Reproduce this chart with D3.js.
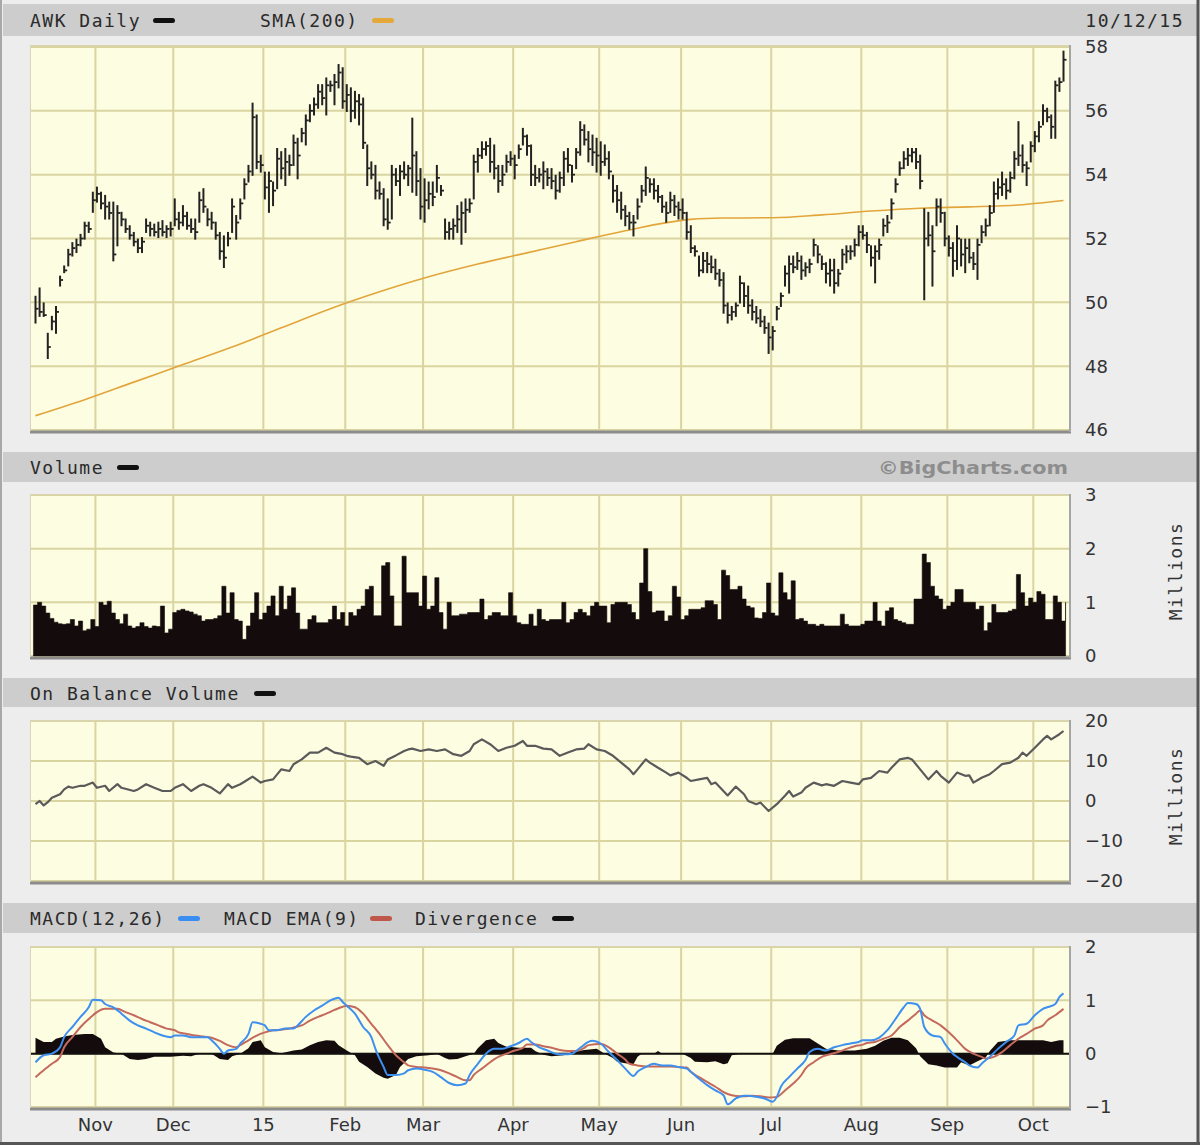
<!DOCTYPE html>
<html><head><meta charset="utf-8">
<script src="https://cdn.jsdelivr.net/npm/d3@7"></script>
<style>body{margin:0;background:#ededed}svg{display:block}</style>
</head><body>
<svg id="c" width="1200" height="1145"></svg>
<script>
// ---------- DATA ----------
const monthLabels = ["Nov","Dec","15","Feb","Mar","Apr","May","Jun","Jul","Aug","Sep","Oct"];
const monthStart = [15,34,56,76,95,117,138,158,180,202,223,244]; // trading-day index of first session
const priceTicks = [46,48,50,52,54,56,58];
const volTicks = [0,1,2,3];
const obvTicks = [-20,-10,0,10,20];
const macdTicks = [-1,0,1,2];

const high = [50.19,50.45,49.98,49.03,49.56,49.87,50.82,51.14,51.66,51.87,
51.98,52.13,52.51,52.51,53.45,53.61,53.45,53.35,53.14,53.14,
53.03,52.82,52.61,52.40,52.19,51.98,52.03,52.61,52.51,52.45,
52.51,52.56,52.40,52.51,53.24,52.82,53.03,52.82,52.61,52.61,
53.45,53.56,52.93,52.82,52.51,52.19,52.08,52.19,53.24,52.72,
53.24,53.87,54.29,56.24,55.87,54.61,54.08,54.08,53.77,54.82,
54.72,54.82,54.61,55.24,55.14,55.45,55.87,56.19,56.40,56.82,
56.82,57.03,56.93,57.14,57.45,57.35,56.82,56.72,56.61,56.51,
56.40,54.93,54.40,54.29,53.77,53.56,53.24,54.29,54.19,54.29,
54.40,54.29,55.77,54.72,54.19,53.87,53.77,53.77,54.29,53.66,
52.61,52.51,52.61,53.03,53.14,53.24,53.24,54.61,54.82,55.03,
55.03,55.14,54.93,54.29,54.29,54.61,54.72,54.61,54.93,55.45,
55.24,54.93,54.29,54.19,54.40,54.19,54.19,53.98,54.08,54.72,
54.82,54.29,54.82,55.66,55.56,55.35,55.24,55.14,55.03,54.93,
54.72,53.98,53.66,53.45,53.03,52.82,52.72,53.24,53.66,54.24,
53.87,53.87,53.66,53.35,53.14,53.45,53.35,53.14,53.24,52.82,
52.40,51.77,51.45,51.56,51.56,51.45,51.35,51.03,50.93,49.98,
49.87,49.98,50.82,50.61,50.51,50.08,49.87,49.77,49.56,49.35,
49.24,49.87,50.29,51.14,51.45,51.45,51.56,51.45,51.24,51.35,
51.98,51.77,51.45,51.24,51.35,51.35,51.03,51.66,51.77,51.77,
51.98,52.40,52.40,52.19,51.77,51.77,51.98,52.61,52.72,53.24,
53.87,54.40,54.72,54.82,54.82,54.82,54.61,52.93,52.82,52.40,
53.24,53.24,52.82,52.08,51.87,52.40,51.98,51.98,51.98,51.56,
51.98,52.40,52.61,53.03,53.77,53.87,54.08,53.87,54.08,54.72,
55.66,54.93,54.40,55.03,55.35,55.66,56.19,56.08,55.87,56.93,
57.03,57.87];
const low = [49.35,49.56,49.56,48.24,49.14,49.03,50.51,50.93,51.14,51.45,
51.56,51.77,51.98,52.19,52.82,53.14,52.93,52.61,52.61,51.30,
51.77,52.40,52.19,51.98,51.77,51.56,51.56,52.19,52.08,52.08,
52.03,52.08,52.03,52.08,52.40,52.29,52.40,52.29,52.19,51.98,
52.51,52.82,52.40,52.29,51.98,51.35,51.09,51.77,52.19,51.98,
52.61,53.24,53.77,53.98,54.19,54.08,53.24,52.82,53.03,53.56,
53.87,53.66,53.98,54.29,53.87,55.03,54.93,55.66,55.87,56.08,
56.19,55.87,56.61,56.19,56.72,56.08,55.98,55.66,55.77,55.56,
54.82,53.66,53.87,53.24,53.24,52.40,52.29,52.61,53.66,53.35,
53.87,53.66,53.45,53.35,52.61,52.51,52.93,53.03,53.45,53.35,
51.98,51.98,51.98,52.19,51.82,52.19,52.82,53.24,54.08,54.51,
54.61,54.08,53.87,53.45,53.66,54.08,54.29,53.87,54.51,54.93,
54.61,53.66,53.66,53.77,53.56,53.66,53.56,53.24,53.45,53.66,
54.08,53.77,54.19,54.61,54.93,54.40,54.29,54.08,53.98,54.29,
53.87,53.14,52.82,52.61,52.40,52.29,52.08,52.61,53.14,53.35,
53.45,53.24,53.14,52.82,52.51,52.82,52.72,52.61,52.61,51.98,
51.56,51.45,50.82,50.93,50.93,50.93,50.72,50.51,49.66,49.35,
49.45,49.56,49.98,49.87,49.66,49.45,49.35,49.24,49.03,48.40,
48.51,49.45,49.87,50.51,50.29,50.93,51.03,50.72,50.82,50.93,
51.45,51.24,51.03,50.61,50.51,50.29,50.51,51.03,51.24,51.35,
51.45,51.77,51.98,51.56,51.14,50.61,51.35,52.08,52.19,52.61,
53.45,53.98,54.19,54.29,54.40,54.19,53.56,50.08,51.77,50.51,
52.40,52.51,51.77,51.45,50.82,51.03,51.14,50.93,51.24,51.03,
50.72,51.87,52.08,52.40,52.82,53.24,53.35,53.24,53.45,53.87,
54.29,54.08,53.66,54.40,54.72,55.03,55.56,55.66,55.14,55.14,
56.61,56.93];
const close = [49.8,49.7,49.6,48.6,49.4,49.7,50.7,51.0,51.5,51.7,
51.8,52.0,52.4,52.3,53.2,53.4,53.1,53.0,52.8,51.5,
52.8,52.6,52.3,52.1,51.9,51.7,51.9,52.4,52.3,52.2,
52.3,52.2,52.3,52.3,52.6,52.5,52.7,52.4,52.3,52.2,
53.2,53.0,52.6,52.5,52.1,51.6,51.4,52.0,53.0,52.5,
53.1,53.7,54.1,55.8,54.4,54.3,53.6,53.8,53.5,54.5,
54.2,54.4,54.3,55.0,54.6,55.3,55.7,56.0,56.2,56.6,
56.4,56.8,56.8,56.9,57.2,56.3,56.5,56.0,56.3,56.2,
55.0,54.2,54.0,53.5,53.4,52.6,52.5,54.0,53.8,54.1,
54.0,54.2,54.6,53.8,53.0,53.2,53.4,53.3,53.9,53.5,
52.2,52.3,52.4,52.6,52.8,52.9,53.1,54.4,54.6,54.8,
54.9,54.4,54.2,53.8,54.0,54.4,54.5,54.3,54.8,55.2,
54.9,54.0,53.9,54.0,54.1,53.9,53.8,53.5,53.9,54.5,
54.3,54.0,54.7,55.4,55.1,54.8,54.7,54.6,54.4,54.5,
54.1,53.5,53.2,52.9,52.7,52.5,52.5,53.0,53.5,53.9,
53.7,53.5,53.3,53.0,52.8,53.2,53.0,52.9,52.8,52.2,
51.7,51.6,51.0,51.3,51.2,51.1,50.9,50.7,49.9,49.6,
49.7,49.9,50.6,50.2,49.9,49.7,49.5,49.4,49.2,48.9,
49.1,49.8,50.2,50.9,51.2,51.1,51.3,51.0,51.1,51.2,
51.8,51.5,51.2,50.9,51.0,50.6,50.9,51.5,51.6,51.6,
51.8,52.2,52.1,51.8,51.4,51.6,51.8,52.4,52.5,53.1,
53.7,54.2,54.5,54.6,54.7,54.4,53.8,52.0,52.1,51.6,
53.0,52.8,52.0,51.7,51.3,52.0,51.5,51.7,51.4,51.2,
51.8,52.2,52.4,52.8,53.4,53.6,53.7,53.5,53.9,54.5,
54.6,54.3,54.2,54.9,55.2,55.5,56.0,55.8,55.5,56.8,
56.9,57.6];

const smaDay = [0,12,24,36,48,60,72,84,96,108,120,132,144,152,160,168,180,192,204,216,228,240,251];
const smaVal = [46.45,46.95,47.5,48.05,48.6,49.2,49.8,50.33,50.8,51.2,51.55,51.9,52.24,52.45,52.6,52.64,52.65,52.74,52.86,52.95,52.99,53.05,53.19];

const volume = [0.95,1.0,0.93,0.8,0.7,0.63,0.6,0.59,0.6,0.68,
0.56,0.65,0.47,0.5,0.68,0.55,1.0,0.95,1.02,0.8,
0.68,0.6,0.78,0.56,0.52,0.55,0.62,0.55,0.52,0.56,
0.55,0.93,0.43,0.5,0.81,0.85,0.87,0.84,0.82,0.78,
0.75,0.65,0.68,0.68,0.7,0.75,1.3,0.8,1.18,0.68,
0.65,0.31,0.56,0.8,1.18,0.68,0.8,0.93,1.12,0.75,
1.3,0.87,1.12,1.27,0.8,0.5,0.5,0.68,0.75,0.62,
0.62,0.62,0.68,0.93,0.68,0.81,0.56,0.81,0.75,0.87,
0.93,1.24,1.3,0.75,0.75,1.68,1.74,1.12,0.56,0.56,
1.86,1.18,1.18,1.18,0.93,1.49,0.87,0.93,1.46,0.81,
0.5,1.0,0.75,0.75,0.78,0.78,0.81,0.81,0.81,1.06,
0.68,0.75,0.81,0.81,0.75,0.75,1.18,0.75,0.62,0.59,
0.59,0.78,0.56,0.87,0.68,0.65,0.68,0.68,0.68,1.0,
0.62,0.68,0.81,0.87,0.81,0.75,0.93,1.0,0.93,0.93,
0.62,0.96,1.0,1.0,1.0,0.96,0.81,0.68,1.36,2.0,
1.2,0.81,0.84,0.84,0.65,0.75,1.3,1.1,0.68,0.75,
0.87,0.87,0.87,0.9,1.03,1.03,0.96,0.68,1.6,1.5,
1.24,1.24,1.3,1.06,0.93,0.9,0.71,0.7,0.81,1.36,
0.8,0.75,1.55,1.18,1.05,1.4,0.68,0.7,0.65,0.59,
0.59,0.56,0.59,0.56,0.56,0.56,0.56,0.78,0.59,0.56,
0.56,0.56,0.59,0.65,0.65,1.0,0.65,0.56,0.84,0.9,
0.68,0.65,0.62,0.59,0.59,1.06,1.06,1.9,1.74,1.3,
1.12,1.06,0.87,0.93,1.0,1.24,1.24,1.0,1.0,1.0,
0.87,0.93,0.47,0.62,0.96,0.81,0.81,0.81,0.84,0.87,
1.52,1.18,0.93,1.08,1.0,1.2,1.15,0.68,0.68,1.12,
1.0,0.65];

const obvDay = [0,1,2,3,4,6,7,8,9,11,12,14,15,17,18,20,21,24,25,27,29,31,33,34,36,38,40,41,43,45,47,48,50,51,53,55,56,58,60,62,63,65,67,69,71,73,75,76,77,79,81,83,85,86,88,90,91,92,94,96,98,100,102,104,106,107,109,111,113,115,117,119,120,122,124,126,128,130,132,134,135,137,139,141,143,145,146,147,149,150,152,154,155,157,159,160,162,164,165,166,169,171,173,174,176,177,179,181,183,184,185,187,188,190,192,193,195,197,199,201,202,204,206,208,209,211,213,214,216,218,220,221,223,225,227,228,229,231,233,234,236,238,240,241,242,244,246,247,248,250,251];
const obvVal = [-0.8,0,-1.1,-0.3,0.8,1.7,2.9,3.6,3.3,3.8,3.8,4.6,3.3,3.8,2.5,4.2,3.3,2.5,2.9,4.2,3.3,2.5,2.5,3.3,4.2,2.5,3.8,4.2,3.3,1.9,4.2,3.3,4.2,4.8,6.1,4.6,5.0,5.4,7.9,7.5,9.2,10.4,12.1,12.1,13.3,12.1,11.7,11.3,11.1,10.8,9.2,10.0,8.8,10.4,11.4,12.5,12.9,13.1,12.5,12.9,12.5,12.9,11.7,11.3,12.5,14.2,15.4,14.2,12.5,13.3,13.8,15.0,13.8,13.8,13.1,12.9,11.3,12.1,12.9,13.1,14.2,12.9,12.5,11.3,9.6,7.9,6.7,7.9,10.4,9.6,8.3,7.1,6.4,7.1,5.8,5.0,5.4,5.8,4.2,4.6,1.4,3.6,1.7,0,-0.8,-0.4,-2.5,-0.8,1.3,2.5,1.1,2.1,3.3,4.6,3.9,4.2,3.8,5.0,4.6,4.2,5.4,5.8,7.5,7.1,8.3,10.4,10.8,10.4,7.9,5.4,7.5,6.3,4.6,7.1,6.3,6.4,4.6,5.8,6.7,7.5,9.2,9.6,10.8,12.1,11.3,13.3,15.4,16.3,15.4,16.7,17.5];

const macdDay = [0,2,4,6,7,9,11,13,14,16,17,19,21,23,25,27,29,31,33,34,36,38,40,42,43,45,46,47,49,50,52,53,55,56,57,59,61,63,64,66,68,70,72,74,75,76,78,80,82,83,85,86,88,90,91,93,95,97,99,101,103,105,106,108,110,112,114,116,118,120,121,123,125,127,129,131,133,135,136,138,140,142,144,146,147,149,151,153,155,157,159,160,162,164,166,168,169,171,173,174,176,178,180,181,182,184,186,188,189,191,193,195,197,199,201,202,204,206,208,210,212,213,215,216,217,219,221,222,224,225,227,228,230,231,233,235,237,239,240,242,244,246,247,249,250,251];
const macdVal = [-0.16,-0.03,0,0.12,0.31,0.5,0.69,0.87,1.01,1.0,0.93,0.87,0.75,0.62,0.53,0.47,0.4,0.34,0.31,0.34,0.34,0.31,0.31,0.31,0.25,0.09,0,0.06,0.09,0.19,0.37,0.59,0.56,0.53,0.44,0.44,0.47,0.47,0.53,0.69,0.81,0.9,1.0,1.05,0.97,0.9,0.75,0.5,0.31,0.09,-0.25,-0.4,-0.4,-0.37,-0.31,-0.28,-0.3,-0.34,-0.44,-0.55,-0.59,-0.56,-0.4,-0.19,0,0.09,0.09,0.14,0.2,0.28,0.22,0.12,0.06,0,-0.01,0,0.11,0.22,0.24,0.19,0.03,-0.12,-0.28,-0.42,-0.34,-0.25,-0.19,-0.22,-0.22,-0.25,-0.28,-0.34,-0.47,-0.59,-0.69,-0.78,-0.95,-0.84,-0.79,-0.79,-0.81,-0.84,-0.9,-0.81,-0.62,-0.44,-0.28,-0.12,0.03,0.09,0.06,0.12,0.16,0.19,0.22,0.25,0.25,0.3,0.44,0.65,0.87,0.95,0.93,0.84,0.5,0.34,0.31,0.19,0,-0.06,-0.16,-0.22,-0.26,-0.19,-0.06,0.09,0.22,0.34,0.53,0.56,0.72,0.84,0.87,0.93,1.06,1.13];

const sigDay = [0,2,4,6,7,9,11,13,15,17,19,20,22,24,26,28,30,32,34,35,37,39,41,43,45,47,49,50,52,54,56,58,60,62,63,65,67,69,71,73,75,76,78,80,82,84,86,88,90,91,93,95,97,99,101,103,105,106,107,109,111,113,115,117,119,120,122,124,126,128,130,132,134,135,138,140,142,144,145,147,149,151,153,155,157,159,160,162,164,166,168,170,172,173,175,177,179,181,183,185,187,188,190,192,194,196,198,200,202,203,205,207,209,211,213,215,216,217,219,221,223,225,227,229,231,232,234,236,238,240,242,244,246,247,249,251];
const sigVal = [-0.44,-0.31,-0.19,-0.06,0.12,0.31,0.5,0.65,0.78,0.84,0.84,0.84,0.78,0.72,0.65,0.59,0.53,0.47,0.44,0.4,0.37,0.34,0.32,0.3,0.24,0.16,0.12,0.16,0.25,0.34,0.4,0.44,0.45,0.47,0.49,0.53,0.62,0.69,0.75,0.82,0.88,0.9,0.87,0.75,0.56,0.37,0.16,-0.03,-0.16,-0.22,-0.25,-0.26,-0.28,-0.31,-0.37,-0.44,-0.5,-0.5,-0.4,-0.28,-0.16,-0.06,0,0.06,0.11,0.17,0.17,0.14,0.11,0.07,0.05,0.05,0.11,0.16,0.18,0.12,0,-0.11,-0.19,-0.22,-0.24,-0.24,-0.24,-0.24,-0.25,-0.26,-0.34,-0.44,-0.53,-0.62,-0.72,-0.78,-0.8,-0.8,-0.79,-0.8,-0.82,-0.81,-0.69,-0.56,-0.4,-0.28,-0.16,-0.06,-0.01,0.03,0.09,0.14,0.17,0.2,0.22,0.28,0.34,0.5,0.62,0.75,0.81,0.72,0.62,0.53,0.4,0.25,0.09,0,-0.06,-0.09,-0.06,0.03,0.16,0.28,0.37,0.47,0.53,0.62,0.72,0.84];

const divDay = [0,2,4,5,7,9,12,14,16,17,19,21,23,25,27,29,33,36,38,40,43,45,47,48,50,52,53,55,56,58,60,63,65,67,69,71,73,74,76,78,79,81,83,85,86,88,89,91,93,96,98,100,101,103,105,107,108,110,112,113,115,118,121,122,124,126,129,131,134,137,139,141,142,144,146,147,148,151,152,153,158,160,161,164,166,168,169,170,172,180,181,183,185,189,191,193,196,200,203,205,207,209,211,213,215,216,218,220,222,225,226,228,230,232,233,235,238,242,246,248,250,251];
const divVal = [0.3,0.22,0.22,0.28,0.32,0.35,0.37,0.37,0.28,0.12,0.02,0,-0.1,-0.12,-0.1,-0.06,-0.06,-0.04,-0.05,0,0,-0.1,-0.12,-0.05,0,0.1,0.22,0.25,0.12,0.03,0.01,0.06,0.08,0.16,0.22,0.25,0.24,0.16,0.06,-0.03,-0.15,-0.25,-0.37,-0.45,-0.47,-0.4,-0.25,-0.1,-0.05,-0.03,0,-0.08,-0.11,-0.1,-0.05,0,0.1,0.25,0.28,0.2,0.13,0.11,0.11,0.05,-0.02,-0.05,-0.03,0.03,0.07,0.09,0,-0.08,-0.15,-0.18,-0.2,-0.06,0,0,0.05,0,0,-0.08,-0.15,-0.16,-0.14,-0.2,-0.18,-0.03,0,0,0.15,0.26,0.29,0.29,0.19,0.09,0.06,0.06,0.09,0.15,0.24,0.3,0.3,0.25,0.1,-0.05,-0.2,-0.22,-0.26,-0.26,-0.16,-0.22,-0.14,-0.07,0.05,0.22,0.25,0.25,0.25,0.22,0.25,0.25];

// ---------- DRAW ----------
const svg = d3.select("#c");
const PL = 30, PR = 1069;
const mono = "'DejaVu Sans Mono', monospace";
const sans = "'DejaVu Sans', Verdana, sans-serif";
const x = d3.scaleLinear().domain([0, 251]).range([35.5, 1063.5]);

svg.append("rect").attr("width",1200).attr("height",1145).attr("fill","#ededed");

function band(y0, y1){
  svg.append("rect").attr("x",3).attr("y",y0).attr("width",1194).attr("height",y1-y0).attr("fill","#cdcdcd");
}
function htext(t, xp, yb, anchor){
  svg.append("text").attr("x",xp).attr("y",yb).attr("font-family",mono).attr("font-size",18)
    .attr("letter-spacing","1.5px").attr("fill","#2a2a2a").attr("text-anchor",anchor||"start").text(t);
}
function swatch(xp, yb, color){
  svg.append("rect").attr("x",xp).attr("y",yb-9).attr("width",22).attr("height",5).attr("rx",2.5).attr("fill",color);
}

let clipId = 0;
function panel(top, bottom, y, ticks){
  const g = svg.append("g");
  g.append("rect").attr("x",PL).attr("y",top).attr("width",PR-PL).attr("height",bottom-top).attr("fill","#fdfde1");
  g.selectAll(null).data(ticks).join("line")
    .attr("x1",PL).attr("x2",PR).attr("y1",d=>y(d)).attr("y2",d=>y(d))
    .attr("stroke","#d9d4a0").attr("stroke-width",2);
  g.selectAll(null).data(monthStart).join("line")
    .attr("x1",d=>x(d)-1.5).attr("x2",d=>x(d)-1.5).attr("y1",top).attr("y2",bottom)
    .attr("stroke","#d9d4a0").attr("stroke-width",2);
  svg.append("g").selectAll(null).data(ticks).join("text")
    .attr("x",1085).attr("y",d=>y(d)).attr("dy","0.36em")
    .attr("font-family",sans).attr("font-size",18).attr("fill","#333")
    .text(d=> d < 0 ? "\u2212" + Math.abs(d) : d);
  const id = "clip" + (clipId++);
  svg.append("clipPath").attr("id",id).append("rect").attr("x",PL).attr("y",top).attr("width",PR-PL).attr("height",bottom-top);
  const data = svg.append("g").attr("clip-path",`url(#${id})`);
  return {data, finish(){
    const b = svg.append("g");
    b.append("line").attr("x1",PL).attr("x2",PR+2).attr("y1",bottom+1).attr("y2",bottom+1).attr("stroke","#8c8c8c").attr("stroke-width",3);
    b.append("line").attr("x1",PR+1).attr("x2",PR+1).attr("y1",top).attr("y2",bottom+1).attr("stroke","#a5a5a5").attr("stroke-width",2);
    b.append("line").attr("x1",PL).attr("x2",PR).attr("y1",top+0.5).attr("y2",top+0.5).attr("stroke","#d8d4b4").attr("stroke-width",1);
    b.append("line").attr("x1",PL+0.5).attr("x2",PL+0.5).attr("y1",top).attr("y2",bottom).attr("stroke","#d8d4b4").attr("stroke-width",1);
  }};
}

// ===== Price panel =====
band(4, 36);
htext("AWK Daily", 30, 27); swatch(153, 27, "#111");
htext("SMA(200)", 260, 27); swatch(372, 27, "#e4a93a");
htext("10/12/15", 1184, 27, "end");

const yP = d3.scaleLinear().domain([46, 58]).range([430, 47]);
const pp = panel(45, 431, yP, priceTicks);
pp.data.append("path").datum(smaDay.map((d,i)=>[d, smaVal[i]]))
  .attr("fill","none").attr("stroke","#e2a53c").attr("stroke-width",1.6)
  .attr("d", d3.line().x(d=>x(d[0])).y(d=>yP(d[1])).curve(d3.curveMonotoneX));
pp.data.selectAll(null).data(high).join("line")
  .attr("x1",(d,i)=>x(i)).attr("x2",(d,i)=>x(i))
  .attr("y1",d=>yP(d)-0.5).attr("y2",(d,i)=>yP(low[i])+0.5)
  .attr("stroke","#222").attr("stroke-width",2);
pp.data.selectAll(null).data(close).join("line")
  .attr("x1",(d,i)=>x(i)).attr("x2",(d,i)=>x(i)+3)
  .attr("y1",d=>yP(d)).attr("y2",d=>yP(d))
  .attr("stroke","#222").attr("stroke-width",1.8);
pp.finish();

// ===== Volume panel =====
band(452, 482);
htext("Volume", 30, 474); swatch(117, 474, "#111");
svg.append("text").attr("x",1068).attr("y",474).attr("text-anchor","end")
  .attr("font-family",sans).attr("font-weight","bold").attr("font-size",18)
  .attr("fill","#8d8d8d").attr("textLength",190).attr("lengthAdjust","spacingAndGlyphs").text("\u00A9BigCharts.com");
const yV = d3.scaleLinear().domain([0, 3]).range([656, 495]);
const vp = panel(494, 657, yV, volTicks);
const volPts = volume.map((v,i)=>[i - 0.5, v]).concat([[251.5, volume[250]]]);
vp.data.append("path").datum(volPts)
  .attr("fill","#140c0c").attr("stroke","#140c0c").attr("stroke-width",0.6)
  .attr("d", d3.area().x(d=>x(d[0])).y0(yV(0)).y1(d=>yV(d[1])).curve(d3.curveStepAfter));
vp.finish();
svg.append("text").attr("transform","translate(1182,571) rotate(-90)").attr("text-anchor","middle")
  .attr("font-family",mono).attr("font-size",18).attr("letter-spacing","1.5px").attr("fill","#333").text("Millions");

// ===== OBV panel =====
band(678, 707);
htext("On Balance Volume", 30, 700); swatch(254, 700, "#111");
const yO = d3.scaleLinear().domain([-20, 20]).range([881, 721]);
const op = panel(720, 882, yO, obvTicks);
op.data.append("path").datum(obvDay.map((d,i)=>[d, obvVal[i]]))
  .attr("fill","none").attr("stroke","#5a5a5a").attr("stroke-width",2.2).attr("stroke-linejoin","round")
  .attr("d", d3.line().x(d=>x(d[0])).y(d=>yO(d[1])));
op.finish();
svg.append("text").attr("transform","translate(1182,796) rotate(-90)").attr("text-anchor","middle")
  .attr("font-family",mono).attr("font-size",18).attr("letter-spacing","1.5px").attr("fill","#333").text("Millions");

// ===== MACD panel =====
band(903, 933);
htext("MACD(12,26)", 30, 925); swatch(178, 925, "#3a8ef2");
htext("MACD EMA(9)", 224, 925); swatch(370, 925, "#c0574b");
htext("Divergence", 415, 925); swatch(552, 925, "#111");
const yM = d3.scaleLinear().domain([-1, 2]).range([1107, 947]);
const mp = panel(946, 1108, yM, macdTicks);
mp.data.append("path").datum(divDay.map((d,i)=>[d, divVal[i]]))
  .attr("fill","#140c0c")
  .attr("d", d3.area().x(d=>x(d[0])).y0(yM(0)).y1(d=>yM(d[1])));
mp.data.append("line").attr("x1",PL).attr("x2",PR).attr("y1",yM(0)).attr("y2",yM(0)).attr("stroke","#111").attr("stroke-width",2);
mp.data.append("path").datum(sigDay.map((d,i)=>[d, sigVal[i]]))
  .attr("fill","none").attr("stroke","#c4695c").attr("stroke-width",2)
  .attr("d", d3.line().x(d=>x(d[0])).y(d=>yM(d[1])).curve(d3.curveMonotoneX));
mp.data.append("path").datum(macdDay.map((d,i)=>[d, macdVal[i]]))
  .attr("fill","none").attr("stroke","#3d8ff0").attr("stroke-width",2)
  .attr("d", d3.line().x(d=>x(d[0])).y(d=>yM(d[1])).curve(d3.curveMonotoneX));
mp.finish();

// month labels
svg.append("g").selectAll(null).data(monthStart).join("text")
  .attr("x",d=>x(d)-1.5).attr("y",1131).attr("text-anchor","middle")
  .attr("font-family",sans).attr("font-size",18).attr("fill","#333")
  .text((d,i)=>monthLabels[i]);

// outer frame
svg.append("line").attr("x1",1).attr("x2",1).attr("y1",0).attr("y2",1145).attr("stroke","#a8a8a8").attr("stroke-width",2);
svg.append("line").attr("x1",1198).attr("x2",1198).attr("y1",0).attr("y2",1145).attr("stroke","#555").attr("stroke-width",3);
svg.append("line").attr("x1",0).attr("x2",1200).attr("y1",1143.5).attr("y2",1143.5).attr("stroke","#555").attr("stroke-width",3);
</script>
</body></html>
